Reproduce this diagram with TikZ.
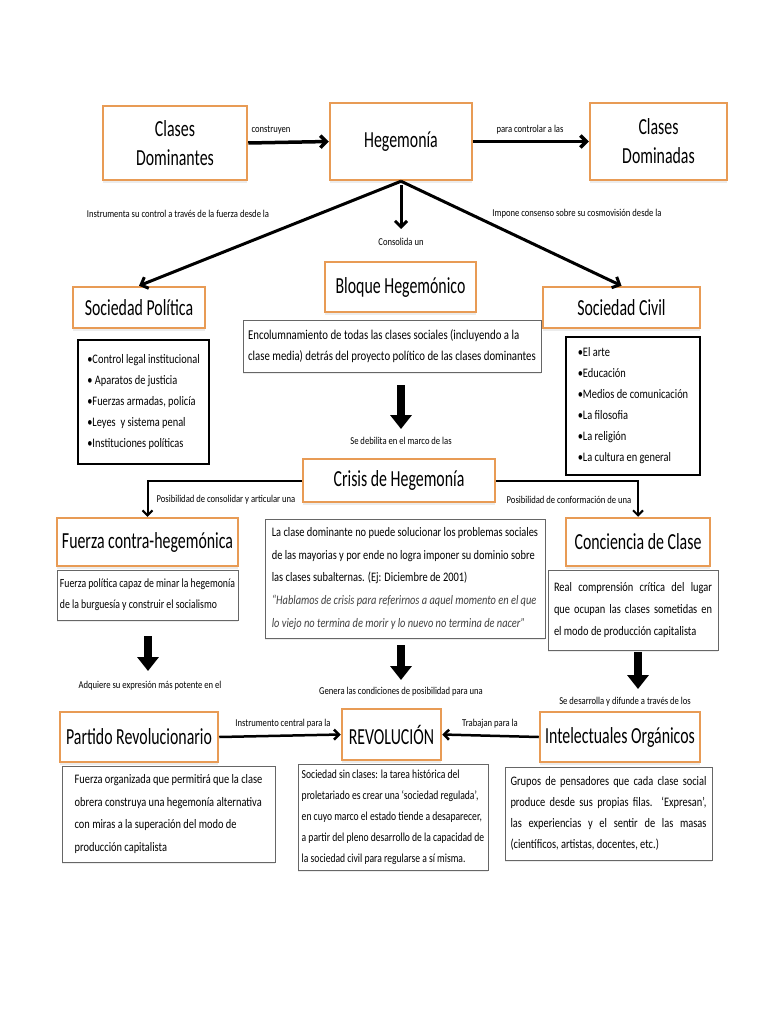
\documentclass[tikz,border=0pt]{standalone}
\usepackage{fontspec}
\setmainfont{Carlito}[FakeStretch=0.8]
\newfontfamily\titlefont{Carlito}[FakeStretch=0.69]
\newfontfamily\labfont{Carlito}[FakeStretch=0.82]
\newfontfamily\narrowfont{Carlito}[FakeStretch=0.78]
\usetikzlibrary{arrows.meta,shadows}
\definecolor{borange}{RGB}{232,155,85}
\tikzset{
  obox/.style={draw=borange, line width=2.5pt, fill=white, inner sep=2pt, align=center,
    font=\titlefont\fontsize{23}{29}\selectfont,
    drop shadow={opacity=0.15, shadow xshift=0pt, shadow yshift=-3pt}},
  tbox/.style={draw=gray!80!black, line width=0.8pt, fill=white, align=left, inner sep=5pt,
    font=\fontsize{13}{21}\selectfont,
    drop shadow={opacity=0.15, shadow xshift=0pt, shadow yshift=-2pt}},
  lbox/.style={draw=black, line width=2.5pt, fill=white, align=left, inner sep=5pt,
    font=\fontsize{13}{21}\selectfont},
  lab/.style={font=\labfont\fontsize{10.5}{12}\selectfont, inner sep=1pt},
  harrow/.style={-{Straight Barb[length=6pt,width=12pt]}, line width=3.5pt},
  darrow/.style={-{Straight Barb[length=6pt,width=12pt]}, line width=3pt},
  tarrow/.style={-{Straight Barb[length=5pt,width=10pt]}, line width=2pt},
  barrow/.style={-{Triangle[length=14pt,width=21pt]}, line width=8pt},
}
\newcommand{\jl}[1]{\hbox to\hsize{#1}}
\begin{document}
\begin{tikzpicture}[x=1pt,y=-1pt]
\useasboundingbox[fill=white] (0,0) rectangle (768,1024);

% top row
\node[obox, minimum width=144, minimum height=74] (cd) at (175,143) {Clases\\Dominantes};
\node[obox, minimum width=142, minimum height=77] (heg) at (401,141.5) {Hegemonía};
\node[obox, minimum width=137, minimum height=77] (cdo) at (658.5,141.5) {Clases\\Dominadas};

\draw[harrow] (cd.east) -- (heg.west);
\draw[harrow] (heg.east) -- (cdo.west);
\node[lab] (l1) at (271,130) {construyen};
\node[lab] (l2) at (530,130) {para controlar a las};

% second row
\node[obox, minimum width=132, minimum height=41] (sp) at (139,307.5) {Sociedad Política};
\node[obox, minimum width=151, minimum height=50] (bh) at (400.5,287) {Bloque Hegemónico};
\node[obox, minimum width=157, minimum height=41] (sc) at (621.5,307.5) {Sociedad Civil};

\draw[darrow] (heg.south) -- (sp.north);
\draw[darrow] (heg.south) -- (sc.north);
\coordinate (c1) at (401,229);
\draw[darrow] ([yshift=-4pt]heg.south) -- (c1);
\node[lab] (l3) at (178,214) {Instrumenta su control a través de la fuerza desde la};
\node[lab] (l4) at (577,214) {Impone consenso sobre su cosmovisión desde la};
\node[lab] (l5) at (401,242) {Consolida un};

\node[tbox, minimum width=298, minimum height=52, font=\fontsize{13.5}{21}\selectfont] (enc) at (392,346)
  {Encolumnamiento de todas las clases sociales (incluyendo a la\\clase media) detrás del proyecto político de las clases dominantes};

\node[lbox, minimum width=131, minimum height=124] (spl) at (143.5,402)
  {•Control legal institucional\\• Aparatos de justicia\\•Fuerzas armadas, policía\\•Leyes\ \ y sistema penal\\•Instituciones políticas};
\node[lbox, minimum width=134, minimum height=138] (scl) at (633,406)
  {•El arte\\•Educación\\•Medios de comunicación\\•La filosofia\\•La religión\\•La cultura en general};

\coordinate (b1s) at (401,385);
\coordinate (b1e) at (401,429);
\draw[barrow] (b1s) -- (b1e);
\node[lab] (l6) at (401,441) {Se debilita en el marco de las};

% crisis row
\node[obox, minimum width=192, minimum height=43] (cr) at (399,480.5) {Crisis de Hegemonía};
\node[obox, minimum width=181, minimum height=48] (fch) at (147.5,542) {Fuerza contra-hegemónica};
\node[obox, minimum width=144, minimum height=48] (cc) at (638,542) {Conciencia de Clase};

\draw[tarrow] (cr.west) -| (fch.north);
\draw[tarrow] (cr.east) -| (cc.north);
\node[lab] (l7) at (226,500) {Posibilidad de consolidar y articular una};
\node[lab] (l8) at (569,500) {Posibilidad de conformación de una};

\node[tbox, minimum width=280, minimum height=119, font=\fontsize{13}{22.7}\selectfont] (mid) at (405,578.5)
  {La clase dominante no puede solucionar los problemas sociales\\de las mayorias y por ende no logra imponer su dominio sobre\\las clases subalternas. (Ej: Diciembre de 2001)\\{\itshape\color{black!75}“Hablamos de crisis para referirnos a aquel momento en el que}\\{\itshape\color{black!75}lo viejo no termina de morir y lo nuevo no termina de nacer”}};

\node[tbox, minimum width=181, minimum height=50, inner xsep=3pt, font=\narrowfont\fontsize{12.5}{21}\selectfont] (fp) at (147.5,595)
  {Fuerza política capaz de minar la hegemonía\\de la burguesía y construir el socialismo};

\node[tbox, minimum width=170, minimum height=80, font=\fontsize{13}{22}\selectfont] (rc) at (633,610)
  {\vbox{\hsize=158pt
   \jl{Real comprensión crítica del lugar}
   \jl{que ocupan las clases sometidas en}
   \hbox{el modo de producción capitalista}}};

\coordinate (b2s) at (148,636);
\coordinate (b2e) at (148,671);
\draw[barrow] (b2s) -- (b2e);
\coordinate (b3s) at (401,645);
\coordinate (b3e) at (401,680);
\draw[barrow] (b3s) -- (b3e);
\coordinate (b4s) at (638,652);
\coordinate (b4e) at (638,689);
\draw[barrow] (b4s) -- (b4e);

\node[lab] (l9) at (150,686) {Adquiere su expresión más potente en el};
\node[lab] (l10) at (401,692) {Genera las condiciones de posibilidad para una};
\node[lab] (l11) at (625,702) {Se desarrolla y difunde a través de los};

% bottom row
\node[obox, minimum width=158, minimum height=50] (pr) at (139,737) {Partido Revolucionario};
\node[obox, minimum width=99, minimum height=51] (rev) at (391.5,734.5) {REVOLUCIÓN};
\node[obox, minimum width=160, minimum height=50] (io) at (620,737) {Intelectuales Orgánicos};

\draw[tarrow, line width=2.5pt] (pr.east) -- (rev.west);
\draw[tarrow, line width=2.5pt] (io.west) -- (rev.east);
\node[lab] (l12) at (283,724) {Instrumento central para la};
\node[lab] (l13) at (490,724) {Trabajan para la};

\node[tbox, minimum width=213, minimum height=96, font=\fontsize{13}{22.5}\selectfont] (fo) at (168.5,814)
  {Fuerza organizada que permitirá que la clase\\obrera construya una hegemonía alternativa\\con miras a la superación del modo de\\producción capitalista};
\node[tbox, minimum width=190, minimum height=106, inner xsep=3pt, font=\narrowfont\fontsize{12.3}{21}\selectfont] (ssc) at (393,817)
  {Sociedad sin clases: la tarea histórica del\\proletariado es crear una ‘sociedad regulada’,\\en cuyo marco el estado tiende a desaparecer,\\a partir del pleno desarrollo de la capacidad de\\la sociedad civil para regularse a sí misma.};
\node[tbox, minimum width=207, minimum height=93, font=\fontsize{13}{21}\selectfont] (gr) at (608.5,813.5)
  {\vbox{\hsize=196pt
   \jl{Grupos de pensadores que cada clase social}
   \jl{produce desde sus propias filas. ‘Expresan’,}
   \jl{las experiencias y el sentir de las masas}
   \hbox{(científicos, artistas, docentes, etc.)}}};
\end{tikzpicture}
\end{document}
